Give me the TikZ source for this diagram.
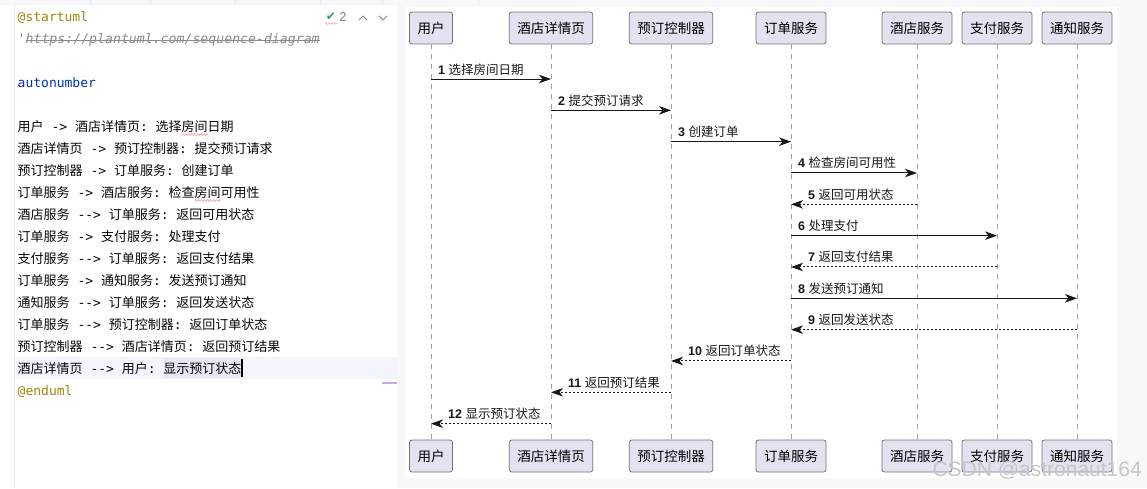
\documentclass[tikz,border=0pt]{standalone}
\usepackage{fontspec}
\setmainfont{Liberation Sans}
\setmonofont{DejaVu Sans Mono}
\newfontfamily\cjk{Noto Sans CJK SC}
\newfontfamily\sym{DejaVu Sans}
\usepackage{tikz}
\usetikzlibrary{positioning,arrows.meta,calc,decorations.pathmorphing}
\definecolor{pBox}{HTML}{E2E2F0}
\definecolor{pLine}{HTML}{181818}
\definecolor{pLife}{HTML}{A0A0A0}
\definecolor{eBg}{HTML}{F7F8FA}
\definecolor{eGutter}{HTML}{EBECF0}
\definecolor{eCaret}{HTML}{F3F5FC}
\definecolor{eSel}{HTML}{E9E5F7}
\definecolor{eAnno}{HTML}{9E880D}
\definecolor{eCmt}{HTML}{8C8C8C}
\definecolor{eKey}{HTML}{0033B3}
\definecolor{eText}{HTML}{080808}
\definecolor{eWarn}{HTML}{F49AA0}
\definecolor{eMark}{HTML}{C9A6F0}
\definecolor{eOk}{HTML}{3C9A5F}
\definecolor{eIcon}{HTML}{7F8389}
% one line of the PlantUML source
\newcommand\srcline[4]{{\cjk #1}\ {#2}\ {\cjk #3}:\ {\cjk #4}}

\begin{document}
\begin{tikzpicture}[x=1pt,y=-1pt,
  part/.style={draw=pLine!60, fill=pBox, rounded corners=2.5pt, line width=0.8pt,
    minimum height=32pt, inner xsep=8pt, inner ysep=0pt,
    font=\cjk\fontsize{13.5}{15}\selectfont},
  life/.style={draw=pLife, line width=1pt, dash pattern=on 5pt off 5pt},
  call/.style={draw=pLine, line width=1pt, -{Stealth[length=12pt,width=8.5pt,inset=3.5pt]}},
  reply/.style={call, dash pattern=on 2pt off 2pt},
  msg/.style={anchor=base west, inner sep=0pt, text=pLine, font=\fontsize{12.5}{14}\selectfont},
  src/.style={anchor=base west, inner sep=0pt, text=eText, font=\ttfamily\fontsize{13}{15}\selectfont},
  squig/.style={eWarn, line width=0.6pt, decorate, decoration={snake, amplitude=0.9pt, segment length=3pt}}]
\useasboundingbox (0,0) rectangle (1147,488);

% panels
\fill[eBg] (0,0) rectangle (1147,488);
\foreach \x in {90,150,235,320,382,478} \draw[eGutter] (\x,0) -- (\x,5);
\fill[white] (0,5) rectangle (397,488);
\draw[eGutter] (14.5,5) -- (14.5,488);
\fill[white] (405,7) rectangle (1117,478);

% editor
\fill[eCaret] (15,357) rectangle (397,379);
\fill[eSel] (163.5,358) rectangle (241.5,378);
\draw[black, line width=1.5pt] (242,359) -- (242,377);
\draw[eMark, line width=1.5pt] (382,383) -- (397,383);

\node[src, text=eAnno] (start) at (17.5,21) {@startuml};
\node[src, text=eCmt, font=\ttfamily\itshape\fontsize{13.2}{15}\selectfont] (url) at (17.5,43)
  {'https://plantuml.com/sequence-diagram};
\draw[eCmt, line width=0.6pt] ($(url.base west)+(8,-2.5)$) -- ($(url.base east)+(0,-2.5)$);
\node[src, text=eKey] (auto) at (17.5,87) {autonumber};

\foreach \a/\op/\b/\t [count=\k] in {
  用户/->/酒店详情页/选择房间日期,
  酒店详情页/->/预订控制器/提交预订请求,
  预订控制器/->/订单服务/创建订单,
  订单服务/->/酒店服务/检查房间可用性,
  酒店服务/-->/订单服务/返回可用状态,
  订单服务/->/支付服务/处理支付,
  支付服务/-->/订单服务/返回支付结果,
  订单服务/->/通知服务/发送预订通知,
  通知服务/-->/订单服务/返回发送状态,
  订单服务/-->/预订控制器/返回订单状态,
  预订控制器/-->/酒店详情页/返回预订结果,
  酒店详情页/-->/用户/显示预订状态} {
  \node[src] (ln\k) at (17.5,{131+(\k-1)*22}) {\srcline{\a}{\op}{\b}{\t}};
}
\node[src, text=eAnno] (stop) at (17.5,395) {@enduml};

\draw[squig] (182,134.5) -- (208,134.5);
\draw[squig] (194.5,200.5) -- (220.5,200.5);

% inspection widget
\node[inner sep=0pt, text=eOk, font=\sym\fontsize{12}{14}\selectfont] (chk) at (331,17) {✔};
\draw[squig, line width=0.5pt] (325,23.5) -- (337,23.5);
\node[inner sep=0pt, text=eIcon, font=\fontsize{13}{15}\selectfont, right=3pt of chk] (cnt) {2};
\draw[eIcon, line width=1pt, line cap=round] (359,20) -- (363,16) -- (367,20);
\draw[eIcon, line width=1pt, line cap=round] (379,16) -- (383,20) -- (387,16);

% participants
\foreach \id/\x/\lab in {usr/431/用户, page/551/酒店详情页, ctrl/671/预订控制器,
  ord/791/订单服务, htl/917/酒店服务, pay/997/支付服务, ntf/1077/通知服务} {
  \node[part] (\id) at (\x,28) {\lab};
  \node[part] (\id-b) at (\x,456) {\lab};
  \draw[life] (\id) -- (\id-b);
}

% messages
\foreach \n in {1,...,12} \coordinate (r\n) at (0,{79+(\n-1)*31.33});

\foreach \n/\a/\b/\txt in {1/usr/page/选择房间日期, 2/page/ctrl/提交预订请求,
  3/ctrl/ord/创建订单, 4/ord/htl/检查房间可用性, 6/ord/pay/处理支付, 8/ord/ntf/发送预订通知} {
  \draw[call] (\a |- r\n) -- (\b |- r\n);
  \node[msg] (m\n) at ($(\a |- r\n)+(7,-5)$) {\textbf{\n} {\cjk\txt}};
}
\foreach \n/\a/\b/\txt in {5/htl/ord/返回可用状态, 7/pay/ord/返回支付结果,
  9/ntf/ord/返回发送状态, 10/ord/ctrl/返回订单状态, 11/ctrl/page/返回预订结果,
  12/page/usr/显示预订状态} {
  \draw[reply] (\a |- r\n) -- (\b |- r\n);
  \node[msg] (m\n) at ($(\b |- r\n)+(17,-5)$) {\textbf{\n} {\cjk\txt}};
}

% watermark
\node[anchor=base east, inner sep=0pt, text=gray!45, font=\fontsize{21}{24}\selectfont] (wm)
  at (1142,476) {CSDN @astronaut164};
\end{tikzpicture}
\end{document}
